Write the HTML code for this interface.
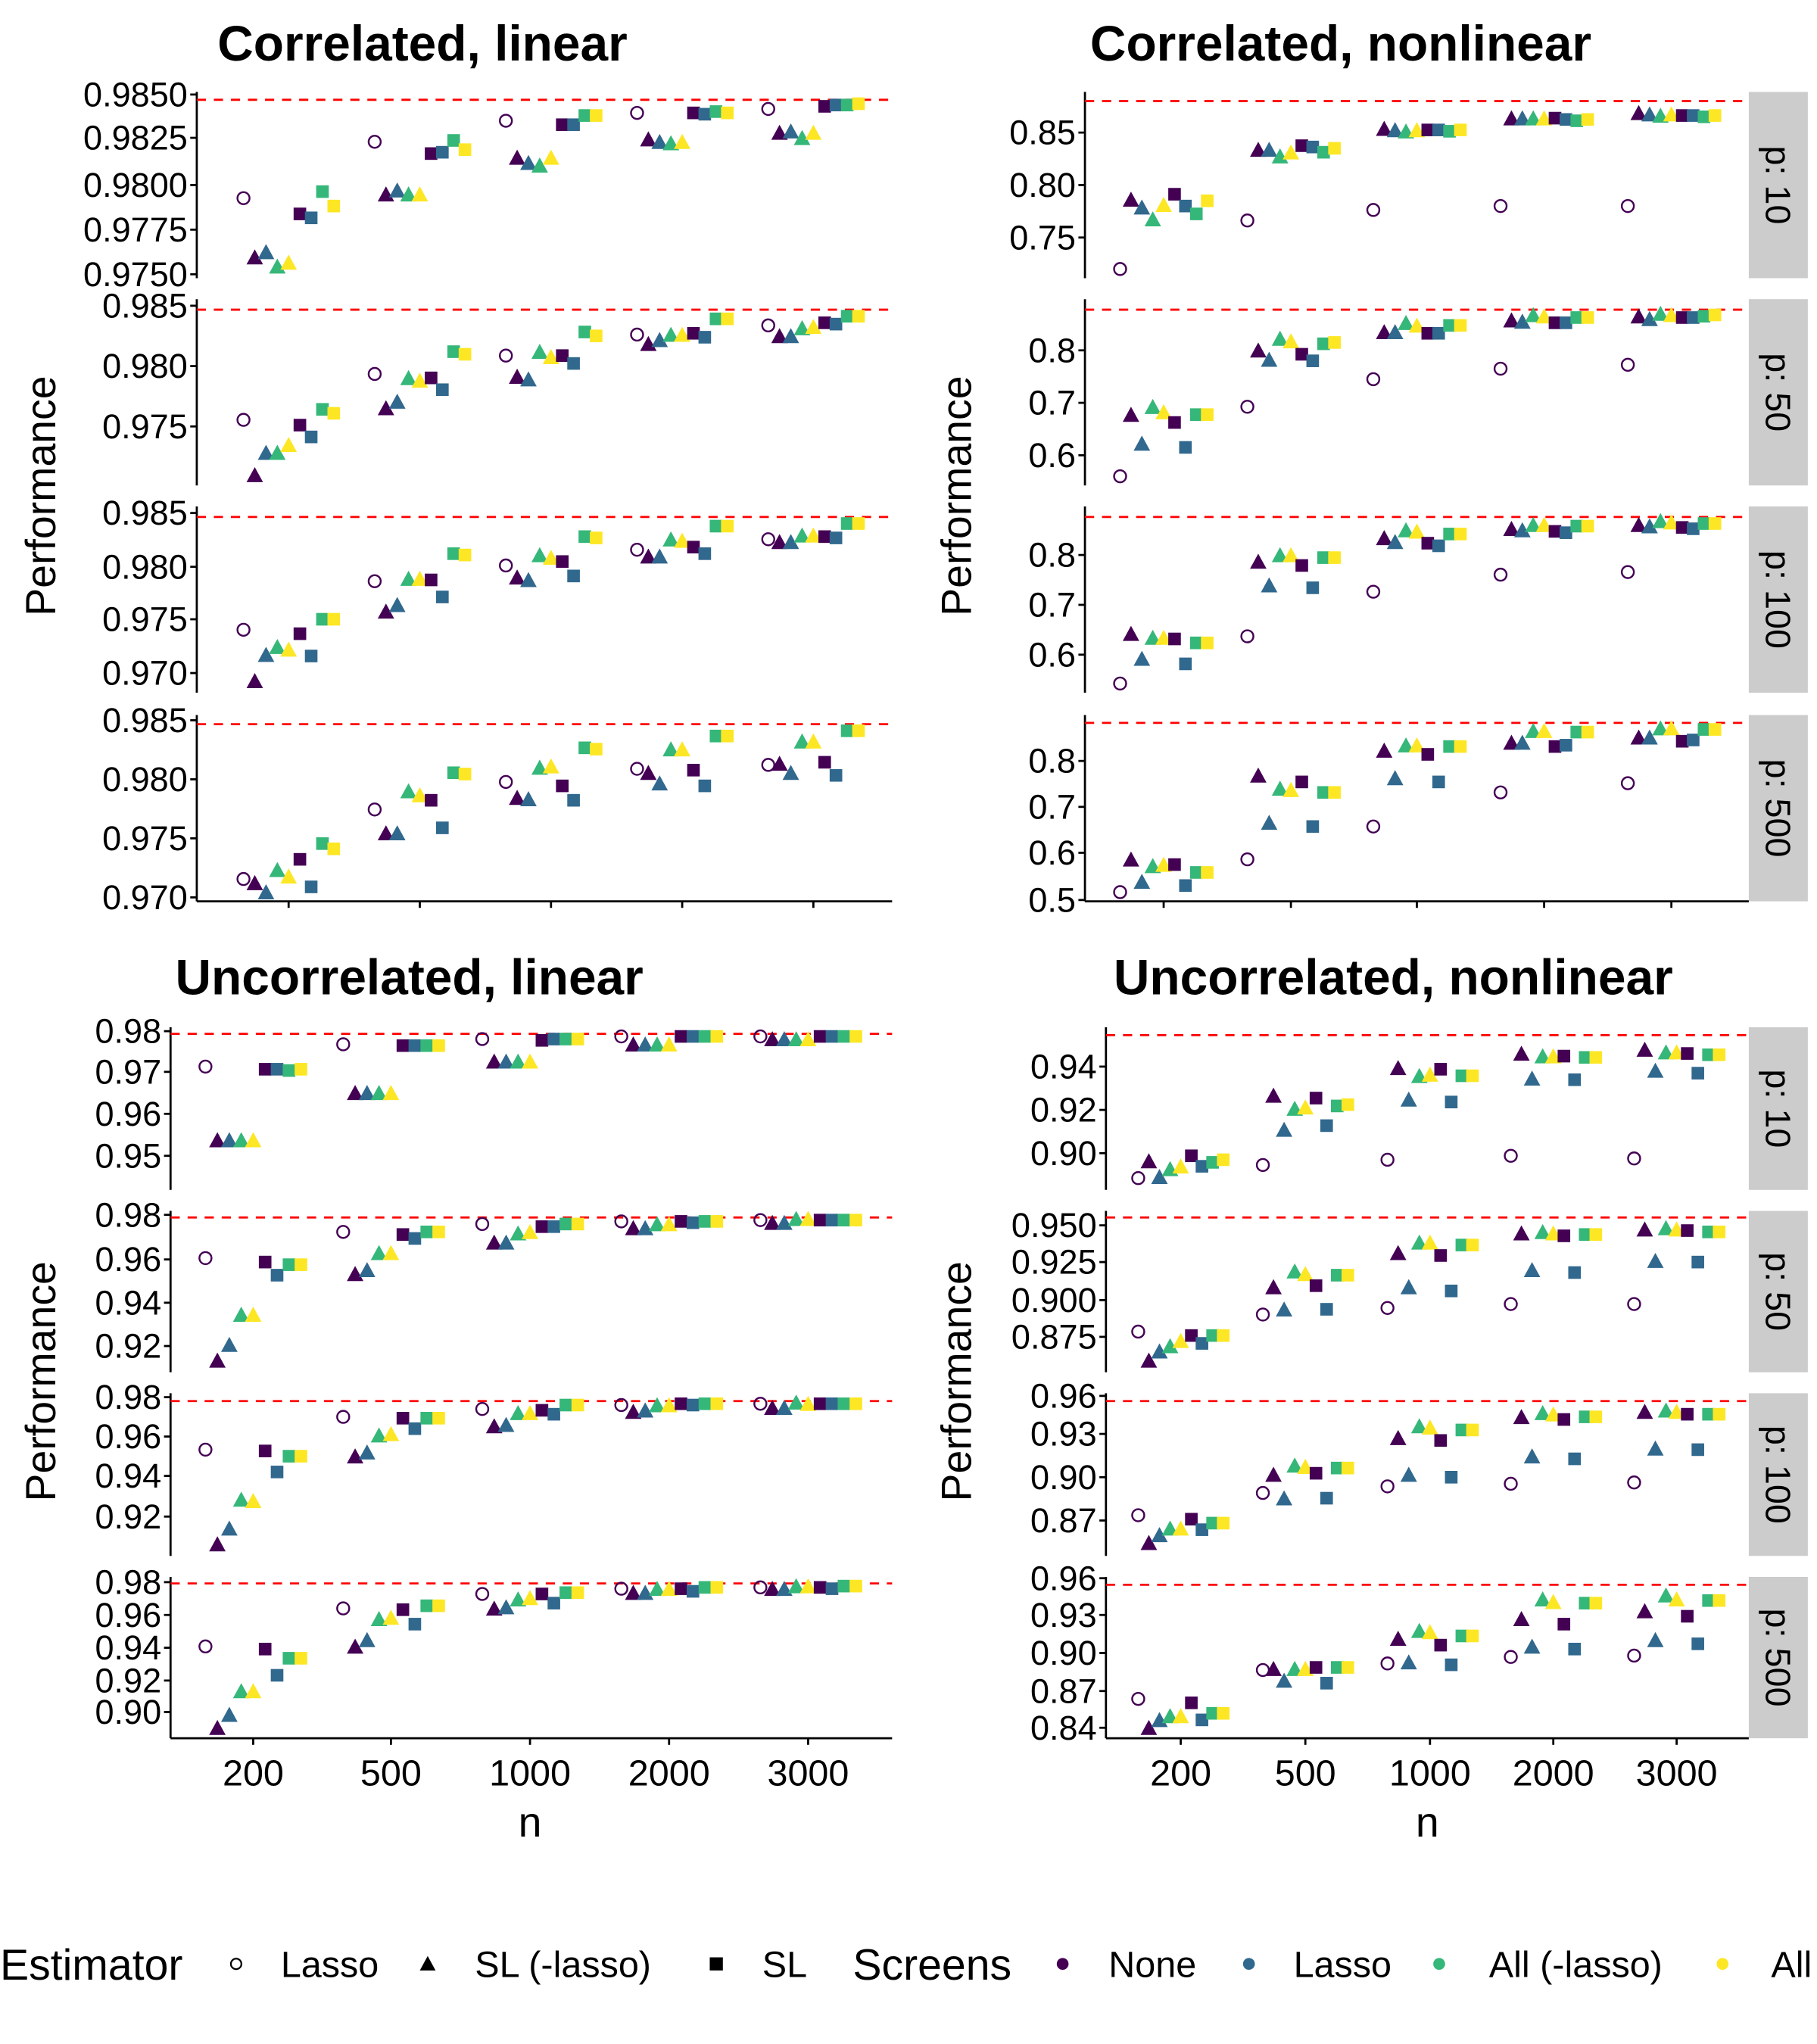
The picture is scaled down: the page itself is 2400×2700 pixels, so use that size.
<!DOCTYPE html>
<html><head><meta charset="utf-8"><style>
html,body{margin:0;padding:0;background:#fff;}
svg{display:block;}
text{font-family:"Liberation Sans",sans-serif;}
</style></head><body>
<svg id="s" width="2400" height="2700" viewBox="0 0 1385 1558" xmlns="http://www.w3.org/2000/svg">
<rect width="1385" height="1558" fill="#fff"/>
<text x="322" y="46" font-size="38" font-weight="bold" text-anchor="middle">Correlated, linear</text>
<text x="1022" y="46" font-size="38" font-weight="bold" text-anchor="middle">Correlated, nonlinear</text>
<text x="312" y="758" font-size="38" font-weight="bold" text-anchor="middle">Uncorrelated, linear</text>
<text x="1062" y="758" font-size="38" font-weight="bold" text-anchor="middle">Uncorrelated, nonlinear</text>
<text transform="translate(42,378) rotate(-90)" font-size="32" text-anchor="middle">Performance</text>
<text transform="translate(740,378) rotate(-90)" font-size="32" text-anchor="middle">Performance</text>
<text transform="translate(42,1053) rotate(-90)" font-size="32" text-anchor="middle">Performance</text>
<text transform="translate(740,1053) rotate(-90)" font-size="32" text-anchor="middle">Performance</text>
<text x="404" y="1400" font-size="32" text-anchor="middle">n</text>
<text x="1088" y="1400" font-size="32" text-anchor="middle">n</text>
<g font-size="33">
<text x="0" y="1509">Estimator</text>
<circle cx="180" cy="1497" r="4" fill="none" stroke="#000" stroke-width="1.3"/>
<text x="214" y="1507" font-size="28">Lasso</text>
<polygon points="326,1491 332,1502 320,1502" fill="#000"/>
<text x="362" y="1507" font-size="28">SL (-lasso)</text>
<rect x="541" y="1492" width="10" height="10" fill="#000"/>
<text x="581" y="1507" font-size="28">SL</text>
<text x="650" y="1509">Screens</text>
<circle cx="810" cy="1497" r="4.5" fill="#440154"/>
<text x="845" y="1507" font-size="28">None</text>
<circle cx="952" cy="1497" r="4.5" fill="#31688E"/>
<text x="986" y="1507" font-size="28">Lasso</text>
<circle cx="1097" cy="1497" r="4.5" fill="#35B779"/>
<text x="1135" y="1507" font-size="28">All (-lasso)</text>
<circle cx="1313" cy="1497" r="4.5" fill="#FDE725"/>
<text x="1350" y="1507" font-size="28">All</text>
</g>
<g id="g"></g>
</svg>
<script>
var NS="http://www.w3.org/2000/svg",G=document.getElementById("g");
function el(t,a,txt){var e=document.createElementNS(NS,t);for(var k in a)e.setAttribute(k,a[k]);if(txt!==undefined)e.textContent=txt;G.appendChild(e);return e;}
var C=["#440154","#31688E","#35B779","#FDE725"];
var panels=[
{ax:150,x2:680,ticks:[220,320,420,520,620],step:8.6,strip:false,xlab:false,
 rows:[{y0:70,y1:212,dash:76,yt:[[72,"0.9850"],[105,"0.9825"],[141,"0.9800"],[175,"0.9775"],[209,"0.9750"]],
 d:[[151,197,193,204,201,163,166,146,157],[108,149,146,149,149,117,116,107,114],[92,121,125,127,121,95,95,88,88],[86,107,109,110,109,86,87,85,86],[83,102,101,106,102,81,80,80,79]]},
 {y0:228,y1:370,dash:236,yt:[[233,"0.985"],[279,"0.980"],[325,"0.975"]],
 d:[[320,363,346,346,340,324,333,312,315],[285,312,307,289,291,288,297,268,270],[271,288,290,269,273,271,277,253,256],[255,263,260,256,256,254,257,243,243],[248,257,257,251,250,246,247,241,241]]},
 {y0:386,y1:528,dash:394,yt:[[391,"0.985"],[432,"0.980"],[472,"0.975"],[513,"0.970"]],
 d:[[480,520,500,494,496,483,500,472,472],[443,467,462,442,442,442,455,422,423],[431,441,443,424,426,428,439,409,410],[419,425,425,412,413,417,422,401,401],[411,414,414,409,409,409,410,399,399]]},
 {y0:545,y1:687,dash:552,yt:[[549,"0.985"],[594,"0.980"],[639,"0.975"],[684,"0.970"]],
 d:[[670,674,681,664,669,655,676,643,647],[617,636,636,604,607,610,631,589,590],[596,609,610,586,585,599,610,570,571],[586,590,598,572,572,587,599,561,561],[583,583,590,566,566,581,591,557,557]]}]},
{ax:827,x2:1333,ticks:[887,984,1080,1177,1274],step:8.3,strip:true,labs:["p: 10","p: 50","p: 100","p: 500"],
 rows:[{y0:70,y1:212,dash:77,yt:[[101,"0.85"],[141,"0.80"],[181,"0.75"]],
 d:[[205,153,159,168,157,148,157,163,153],[168,115,115,120,117,111,112,116,113],[160,99,100,101,100,99,99,100,99],[157,91,91,91,91,90,91,92,91],[157,87,88,89,88,88,88,89,88]]},
 {y0:228,y1:370,dash:236,yt:[[267,"0.8"],[307,"0.7"],[347,"0.6"]],
 d:[[363,317,339,311,315,322,341,316,316],[310,268,275,259,261,270,275,262,261],[289,254,254,247,249,254,254,248,248],[281,245,246,241,242,246,246,242,242],[278,242,244,240,241,242,242,241,240]]},
 {y0:386,y1:528,dash:394,yt:[[423,"0.8"],[461,"0.7"],[499,"0.6"]],
 d:[[521,484,503,487,487,487,506,490,490],[485,429,447,424,424,431,448,425,425],[451,411,414,405,406,414,416,407,407],[438,404,405,401,401,405,406,401,401],[436,401,402,398,399,402,403,399,399]]},
 {y0:545,y1:687,dash:551,yt:[[580,"0.8"],[615,"0.7"],[650,"0.6"],[686,"0.5"]],
 d:[[680,656,673,661,660,659,675,665,665],[655,592,628,602,603,596,630,604,604],[630,573,594,569,569,575,596,569,569],[604,567,567,558,558,569,568,558,558],[597,563,563,556,556,565,564,556,556]]}]},
{ax:130,x2:680,ticks:[193,298,404,510,616],step:9.1,strip:false,xlab:true,
 rows:[{y0:783,y1:907,dash:788,yt:[[786,"0.98"],[817,"0.97"],[849,"0.96"],[881,"0.95"]],
 d:[[813,870,870,870,870,815,815,816,815],[796,834,834,834,834,797,797,797,797],[792,810,810,810,810,793,792,792,792],[790,797,797,797,797,790,790,790,790],[790,793,793,793,793,790,790,790,790]]},
 {y0:923,y1:1046,dash:928,yt:[[926,"0.98"],[960,"0.96"],[993,"0.94"],[1026,"0.92"]],
 d:[[959,1038,1026,1003,1003,962,972,964,964],[939,972,969,956,956,941,944,939,939],[933,948,948,941,940,935,935,933,933],[931,937,937,934,934,931,932,931,931],[930,933,933,930,930,930,930,930,930]]},
 {y0:1062,y1:1186,dash:1068,yt:[[1065,"0.98"],[1095,"0.96"],[1125,"0.94"],[1156,"0.92"]],
 d:[[1105,1178,1166,1144,1145,1106,1122,1110,1110],[1080,1111,1108,1095,1094,1081,1089,1081,1081],[1074,1088,1087,1078,1078,1075,1078,1071,1071],[1071,1077,1076,1072,1072,1070,1071,1070,1070],[1070,1074,1074,1070,1071,1070,1070,1070,1070]]},
 {y0:1202,y1:1325,dash:1207,yt:[[1206,"0.98"],[1231,"0.96"],[1256,"0.94"],[1281,"0.92"],[1305,"0.90"]],
 d:[[1255,1318,1308,1290,1290,1257,1277,1264,1264],[1226,1256,1251,1235,1234,1227,1238,1224,1224],[1215,1227,1226,1220,1219,1215,1222,1214,1214],[1211,1215,1215,1212,1212,1211,1213,1210,1210],[1210,1212,1212,1210,1210,1210,1211,1209,1209]]}]},
{ax:843,x2:1333,ticks:[900,995,1090,1184,1278],step:8.1,strip:true,xlab:true,labs:["p: 10","p: 50","p: 100","p: 500"],
 rows:[{y0:783,y1:907,dash:789,yt:[[813,"0.94"],[846,"0.92"],[879,"0.90"]],
 d:[[898,886,898,892,890,881,889,886,884],[888,836,862,846,845,837,858,843,842],[884,815,839,821,820,815,840,820,820],[881,804,823,806,806,805,823,806,806],[883,801,817,803,803,803,818,804,804]]},
 {y0:923,y1:1046,dash:928,yt:[[934,"0.950"],[962,"0.925"],[991,"0.900"],[1019,"0.875"]],
 d:[[1015,1038,1031,1027,1023,1018,1024,1018,1018],[1002,982,999,970,972,980,998,972,972],[997,956,982,948,948,957,984,949,949],[994,941,969,940,941,942,970,941,941],[994,938,962,937,938,938,962,939,939]]},
 {y0:1062,y1:1186,dash:1068,yt:[[1064,"0.96"],[1093,"0.93"],[1126,"0.90"],[1159,"0.87"]],
 d:[[1155,1177,1171,1166,1166,1158,1166,1161,1161],[1138,1125,1143,1118,1119,1123,1142,1119,1119],[1133,1097,1125,1088,1089,1098,1126,1090,1090],[1131,1081,1111,1078,1079,1082,1112,1080,1080],[1130,1077,1105,1076,1077,1078,1105,1078,1078]]},
 {y0:1202,y1:1325,dash:1208,yt:[[1203,"0.96"],[1231,"0.93"],[1260,"0.90"],[1289,"0.87"],[1317,"0.84"]],
 d:[[1295,1318,1312,1309,1309,1298,1311,1306,1306],[1273,1273,1282,1273,1273,1271,1283,1271,1271],[1268,1250,1268,1244,1245,1254,1269,1247,1247],[1263,1235,1256,1220,1222,1238,1257,1222,1222],[1262,1229,1251,1217,1220,1232,1253,1220,1220]]}]}
];
panels.forEach(function(p){
 p.rows.forEach(function(r,ri){
  el("line",{x1:p.ax,y1:r.y0,x2:p.ax,y2:r.y1,stroke:"#000","stroke-width":1.6});
  r.yt.forEach(function(t){
   el("line",{x1:p.ax-5,y1:t[0],x2:p.ax,y2:t[0],stroke:"#000","stroke-width":1.6});
   el("text",{x:p.ax-7,y:t[0]+9,"font-size":26,"text-anchor":"end"},t[1]);
  });
  el("line",{x1:p.ax,y1:r.dash,x2:p.x2,y2:r.dash,stroke:"#ff0000","stroke-width":1.6,"stroke-dasharray":"7,6"});
  if(p.strip){
   el("rect",{x:1333,y:r.y0,width:45,height:r.y1-r.y0,fill:"#cccccc"});
   var cy=(r.y0+r.y1)/2;
   el("text",{transform:"translate(1346,"+cy+") rotate(90)","font-size":27,"text-anchor":"middle"},p.labs[ri]);
  }
  r.d.forEach(function(g,gi){
   var cx=p.ticks[gi];
   g.forEach(function(y,k){
    var x=cx+(k-4)*p.step;
    if(k==0){el("circle",{cx:x,cy:y,r:4.6,fill:"none",stroke:C[0],"stroke-width":1.4});}
    else if(k<5){var c=C[k-1];el("polygon",{points:x+","+(y-7)+" "+(x+6.3)+","+(y+4.5)+" "+(x-6.3)+","+(y+4.5),fill:c});}
    else{var c=C[k-5];el("rect",{x:x-4.8,y:y-4.8,width:9.6,height:9.6,fill:c});}
   });
  });
 });
 var last=p.rows[p.rows.length-1];
 el("line",{x1:p.ax,y1:last.y1,x2:p.x2,y2:last.y1,stroke:"#000","stroke-width":1.6});
 p.ticks.forEach(function(t,i){
  el("line",{x1:t,y1:last.y1,x2:t,y2:last.y1+5,stroke:"#000","stroke-width":1.6});
  if(p.xlab) el("text",{x:t,y:last.y1+36,"font-size":28,"text-anchor":"middle"},["200","500","1000","2000","3000"][i]);
 });
});
</script>
</body></html>
